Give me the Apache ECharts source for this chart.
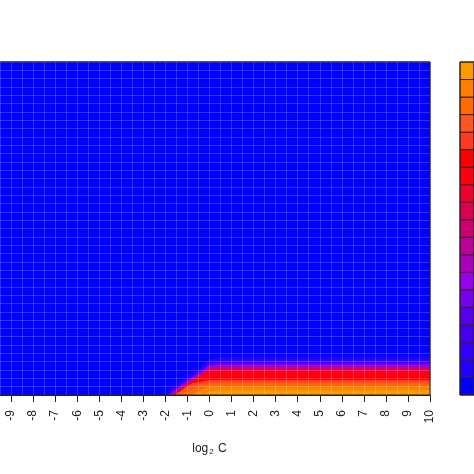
<!DOCTYPE html>
<html>
<head>
<meta charset="utf-8">
<script src="https://cdn.jsdelivr.net/npm/echarts@6/dist/echarts.min.js"></script>
<style>
    html, body {margin: 0; padding: 0; background: #fff; overflow: hidden;}
    /* the figure is cropped on the left: log2 C = -10 sits just off the page */
    #main {width: 491px; height: 474px; margin-left: -17px;}
</style>
</head>
<body>
<div id="main"></div>
<script>
    // tuning grid: log2 C across, log2 gamma up
    var log2C = [-10, -9.5, -9, -8.5, -8, -7.5, -7, -6.5, -6, -5.5, -5, -4.5, -4, -3.5, -3, -2.5,
        -2, -1.5, -1, -0.5, 0, 0.5, 1, 1.5, 2, 2.5, 3, 3.5, 4, 4.5, 5, 5.5, 6, 6.5, 7, 7.5, 8, 8.5, 9, 9.5, 10];
    var log2Gamma = [-15, -14.5, -14, -13.5, -13, -12.5, -12, -11.5, -11, -10.5, -10, -9.5, -9, -8.5, -8, -7.5,
        -7, -6.5, -6, -5.5, -5, -4.5, -4, -3.5, -3, -2.5, -2, -1.5, -1, -0.5, 0, 0.5, 1, 1.5, 2, 2.5, 3, 3.5, 4, 4.5, 5];

    // accuracy (%) on the lowest gamma rows, one value per log2 C column
    var accRow0 = [1, 1, 1, 1, 1, 1, 1, 1, 1, 1, 1, 1, 1, 1, 1, 1, 2, 80, 84, 90, 93,
        94, 94, 94, 94, 94, 94, 94, 94, 94, 94, 94, 94, 94, 94, 94, 94, 94, 94, 94, 94];
    var accRow1 = [1, 1, 1, 1, 1, 1, 1, 1, 1, 1, 1, 1, 1, 1, 1, 1, 1, 5, 75, 80, 86,
        87, 87, 87, 87, 87, 87, 87, 87, 87, 87, 87, 87, 87, 87, 87, 87, 87, 87, 87, 87];
    var accRow2 = [1, 1, 1, 1, 1, 1, 1, 1, 1, 1, 1, 1, 1, 1, 1, 1, 1, 1, 5, 62, 66,
        66, 66, 66, 66, 66, 66, 66, 66, 66, 66, 66, 66, 66, 66, 66, 66, 66, 66, 66, 66];
    var accRow3 = [1, 1, 1, 1, 1, 1, 1, 1, 1, 1, 1, 1, 1, 1, 1, 1, 1, 1, 1, 5, 55,
        58, 58, 58, 58, 58, 58, 58, 58, 58, 58, 58, 58, 58, 58, 58, 58, 58, 58, 58, 58];
    var accRow4 = [1, 1, 1, 1, 1, 1, 1, 1, 1, 1, 1, 1, 1, 1, 1, 1, 1, 1, 1, 1, 7,
        10, 10, 10, 10, 10, 10, 10, 10, 10, 10, 10, 10, 10, 10, 10, 10, 10, 10, 10, 10];
    var accRow5 = [1, 1, 1, 1, 1, 1, 1, 1, 1, 1, 1, 1, 1, 1, 1, 1, 1, 1, 1, 1, 1,
        1, 1, 1, 1, 1, 1, 1, 1, 1, 1, 1, 1, 1, 1, 1, 1, 1, 1, 1, 1];
    // every row above those is the same flat blue
    var accUpper = 1;

    // contour levels and their colours (lowest first)
    var levelBreaks = [0, 5, 10, 15, 20, 25, 30, 35, 40, 45, 50, 55, 60, 65, 70, 75, 80, 85, 90, 95];
    var levelColors = ['#0000FF', '#2200FF', '#3300FF', '#4400EE', '#5500EE', '#7700EE', '#9900EE',
        '#AA00BB', '#BB0099', '#CC0070', '#DD0050', '#EE0030', '#FF0010', '#FF0000',
        '#FF3A20', '#FF5520', '#FF6A00', '#FF8000', '#FF9900'];

    var lowRows = [accRow0, accRow1, accRow2, accRow3, accRow4, accRow5];
    var acc = log2Gamma.map(function (g, j) {
        return j < lowRows.length ? lowRows[j] : log2C.map(function () { return accUpper; });
    });

    function bandOf(z) {
        var k = 0;
        for (var i = 0; i < levelColors.length; i++) {
            if (z >= levelBreaks[i]) k = i;
        }
        return k;
    }

    // cells between grid points, corners carry the values
    var cells = [];
    for (var j = 0; j < log2Gamma.length - 1; j++) {
        for (var i = 0; i < log2C.length - 1; i++) {
            cells.push([log2C[i], log2Gamma[j], log2C[i + 1], log2Gamma[j + 1],
                acc[j][i], acc[j][i + 1], acc[j + 1][i + 1], acc[j + 1][i]]);
        }
    }

    // one triangle, filled like filled.contour (flat plane cut by the levels)
    function tri(pa, za, pb, zb, pc, zc) {
        var dx1 = pb[0] - pa[0], dy1 = pb[1] - pa[1], dz1 = zb - za;
        var dx2 = pc[0] - pa[0], dy2 = pc[1] - pa[1], dz2 = zc - za;
        var det = dx1 * dy2 - dx2 * dy1;
        var a = (dz1 * dy2 - dz2 * dy1) / det;
        var b = (dx1 * dz2 - dx2 * dz1) / det;
        var g2 = a * a + b * b;
        var zmin = Math.min(za, zb, zc), zmax = Math.max(za, zb, zc);
        var fill;
        if (g2 < 1e-12 || zmax - zmin < 1e-6) {
            fill = levelColors[bandOf(za)];
        } else {
            var s = [pa[0] + a * (zmin - za) / g2, pa[1] + b * (zmin - za) / g2];
            var e = [pa[0] + a * (zmax - za) / g2, pa[1] + b * (zmax - za) / g2];
            var stops = [{offset: 0, color: levelColors[bandOf(zmin)]}];
            levelBreaks.forEach(function (L, k) {
                if (L > zmin && L < zmax && k > 0) {
                    var t = (L - zmin) / (zmax - zmin);
                    stops.push({offset: t, color: levelColors[k - 1]});
                    stops.push({offset: t, color: levelColors[Math.min(k, levelColors.length - 1)]});
                }
            });
            stops.push({offset: 1, color: levelColors[bandOf(zmax)]});
            fill = new echarts.graphic.LinearGradient(s[0], s[1], e[0], e[1], stops, true);
        }
        return {type: 'polygon', shape: {points: [pa, pb, pc]}, style: {fill: fill, stroke: fill, lineWidth: 1}};
    }

    function renderCell(params, api) {
        var p00 = api.coord([api.value(0), api.value(1)]);
        var p10 = api.coord([api.value(2), api.value(1)]);
        var p11 = api.coord([api.value(2), api.value(3)]);
        var p01 = api.coord([api.value(0), api.value(3)]);
        var z00 = api.value(4), z10 = api.value(5), z11 = api.value(6), z01 = api.value(7);
        var b0 = bandOf(z00);
        if (bandOf(z10) === b0 && bandOf(z11) === b0 && bandOf(z01) === b0) {
            var c = levelColors[b0];
            return {type: 'polygon', shape: {points: [p00, p10, p11, p01]}, style: {fill: c, stroke: c, lineWidth: 1}};
        }
        return {
            type: 'group',
            children: [tri(p00, z00, p10, z10, p11, z11), tri(p00, z00, p11, z11, p01, z01)]
        };
    }

    function renderKey(params, api) {
        var k = api.value(0);
        var lo = api.coord([0, api.value(1)]);
        var hi = api.coord([1, api.value(2)]);
        return {
            type: 'rect',
            shape: {x: lo[0], y: hi[1], width: hi[0] - lo[0], height: lo[1] - hi[1]},
            style: {fill: levelColors[k], stroke: '#3a2020', lineWidth: 1}
        };
    }

    var keyData = levelColors.map(function (c, k) {
        return [k, levelBreaks[k], levelBreaks[k + 1]];
    });

    var seamStyle = {color: 'rgba(255,255,255,0.18)', width: 1};
    var font = 'Liberation Sans, Arial, sans-serif';

    var opt = {
        animation: false,
        grid: [
            {left: 0, right: 44, top: 62, bottom: 79, show: true, borderColor: '#222', borderWidth: 1, z: 4},
            {left: 477, width: 40, top: 62, bottom: 79, show: true, borderColor: '#222', borderWidth: 1, z: 4}
        ],
        xAxis: [{
            gridIndex: 0,
            type: 'value',
            min: -10,
            max: 10,
            interval: 1,
            z: 3,
            name: 'log{sub|2} C',
            nameLocation: 'middle',
            nameGap: 46,
            nameTextStyle: {
                fontSize: 12, color: '#222', fontFamily: font,
                rich: {sub: {fontSize: 8, color: '#222', fontFamily: font, padding: [7, 1, 0, 1]}}
            },
            axisLine: {show: true, onZero: false, lineStyle: {color: '#222', width: 1}},
            axisTick: {show: true, length: 7, lineStyle: {color: '#222'}},
            axisLabel: {rotate: 90, fontSize: 12, margin: 15, color: '#222', fontFamily: font},
            splitLine: {show: true, lineStyle: seamStyle},
            minorTick: {show: false, splitNumber: 2},
            minorSplitLine: {show: true, lineStyle: seamStyle}
        }, {
            gridIndex: 1, type: 'value', min: 0, max: 1, show: false
        }],
        yAxis: [{
            gridIndex: 0,
            type: 'value',
            min: -15,
            max: 5,
            interval: 1,
            z: 3,
            axisLine: {show: false, onZero: false},
            axisTick: {show: false},
            axisLabel: {show: false},
            splitLine: {show: true, lineStyle: seamStyle},
            minorTick: {show: false, splitNumber: 2},
            minorSplitLine: {show: true, lineStyle: seamStyle}
        }, {
            gridIndex: 1, type: 'value', min: 0, max: 95, show: false
        }],
        series: [{
            type: 'custom',
            xAxisIndex: 0,
            yAxisIndex: 0,
            renderItem: renderCell,
            encode: {x: [0, 2], y: [1, 3]},
            data: cells
        }, {
            type: 'custom',
            xAxisIndex: 1,
            yAxisIndex: 1,
            renderItem: renderKey,
            encode: {y: [1, 2]},
            data: keyData
        }]
    };

    var myChart = echarts.init(document.getElementById('main'));
    myChart.setOption(opt);
</script>
</body>
</html>
